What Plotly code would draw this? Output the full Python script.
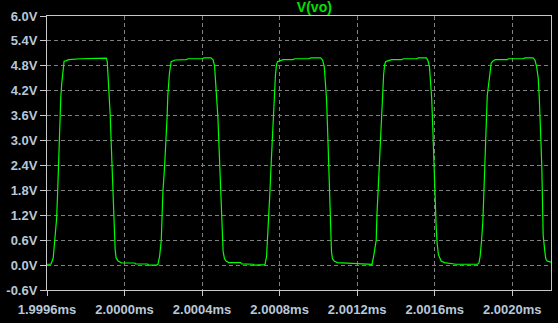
import plotly.graph_objects as go

# time offsets from 2.0000 ms, in nanoseconds
t_ns = [
    -404, -379.6, -367.9, -362.8, -357.7, -350.6, -345.5, -340.4, -335.3, -328.7, -323.6, -316.9, -311.8,
    -303.2, -287.9, -226.7, -150.3, -94.3,
    -89.2, -84.1, -79.0, -73.9, -68.8, -63.7, -58.6, -53.5, -48.4, -43.3, -33.1, -14.3,
    53.5, 56, 119.7, 122.3, 165,
    172.2, 180.9, 189.6, 197.7, 206.4, 215.0, 220.1, 223.2, 228.3, 231.8, 240.5, 260.9,
    318.5, 328.7, 400.0, 410.2, 445.9,
    457.6, 464.7, 469.8, 474.9, 481.5, 486.6, 491.7, 495.3, 500.4, 503.4, 508.5, 515.7, 523.8, 537.6,
    598.7, 603.8, 665.0, 670.1, 720,
    724.6, 732.7, 737.8, 745.0, 750.1, 755.2, 761.8, 766.9, 772.0, 778.6, 783.7, 788.8, 801.0,
    817.8, 868.8, 879.0, 950.3, 960.5, 1011.5,
    1021.7, 1030.3, 1035.4, 1042.0, 1047.1, 1052.2, 1055.8, 1058.8, 1063.9, 1067.5, 1072.6, 1081.3, 1098.1,
    1149.0, 1174.5, 1225.5, 1276.4,
    1285.1, 1298.3, 1301.9, 1307.0, 1313.1, 1319.7, 1324.8, 1329.9, 1336.6, 1341.7, 1346.7, 1357.9,
    1378.3, 1429.3, 1439.5, 1505.7, 1515.9, 1556.7,
    1564.3, 1573.0, 1578.1, 1584.7, 1589.8, 1594.9, 1598.5, 1601.5, 1607.6, 1612.7, 1619.3, 1633.1, 1649.9,
    1709.5, 1821.7,
    1828.3, 1834.4, 1842.0, 1848.6, 1853.7, 1858.8, 1862.4, 1867.5, 1871.1, 1879.2, 1884.3, 1891.4, 1899.6,
    1913.4, 1974.5, 1979.6, 2056.0, 2066.2, 2107.0,
    2117.2, 2125.8, 2134.0, 2139.1, 2144.2, 2147.7, 2152.8, 2156.4, 2159.5, 2168.1, 2173.2, 2179.8, 2193.6, 2202.3,
]
v_vo = [
    0.02, 0.02, 0.17, 0.45, 0.69, 1.11, 1.70, 2.52, 3.45, 4.06, 4.39, 4.74, 4.91,
    4.92, 4.95, 4.97, 4.985, 4.985,
    4.90, 4.51, 4.04, 3.62, 2.95, 2.33, 1.58, 0.72, 0.37, 0.17, 0.10, 0.05,
    0.05, 0.026, 0.026, 0.0, 0.0,
    0.02, 0.21, 0.60, 1.74, 2.36, 2.98, 3.61, 4.08, 4.39, 4.63, 4.90, 4.94,
    4.95, 4.97, 4.97, 4.99, 4.99,
    4.94, 4.78, 4.51, 4.04, 3.57, 2.87, 2.24, 1.77, 1.15, 0.60, 0.33, 0.15, 0.10, 0.06,
    0.06, 0.03, 0.02, 0.0, 0.0,
    0.01, 0.21, 0.60, 1.15, 1.77, 2.32, 2.95, 3.57, 4.12, 4.59, 4.82, 4.90, 4.92,
    4.95, 4.95, 4.97, 4.97, 4.99, 4.99,
    4.94, 4.78, 4.51, 4.00, 3.34, 2.64, 2.01, 1.46, 0.84, 0.33, 0.15, 0.10, 0.06,
    0.05, 0.03, 0.02, 0.02,
    0.21, 0.60, 1.19, 1.70, 2.32, 2.95, 3.57, 4.12, 4.59, 4.82, 4.90, 4.92,
    4.95, 4.95, 4.97, 4.97, 4.99, 4.99,
    4.94, 4.78, 4.51, 4.00, 3.34, 2.64, 2.01, 1.46, 0.92, 0.52, 0.25, 0.10, 0.06,
    0.02, 0.02,
    0.05, 0.21, 0.60, 1.07, 1.74, 2.36, 2.98, 3.57, 4.08, 4.39, 4.67, 4.86, 4.91,
    4.95, 4.95, 4.97, 4.97, 4.99, 4.99,
    4.94, 4.78, 4.51, 4.08, 3.57, 3.03, 2.32, 1.62, 0.72, 0.33, 0.15, 0.10, 0.07, 0.07,
]

x_tick_vals = [1.9996, 2.0000, 2.0004, 2.0008, 2.0012, 2.0016, 2.0020]
x_tick_text = ["1.9996ms", "2.0000ms", "2.0004ms", "2.0008ms", "2.0012ms", "2.0016ms", "2.0020ms"]
y_tick_vals = [-0.6, 0.0, 0.6, 1.2, 1.8, 2.4, 3.0, 3.6, 4.2, 4.8, 5.4, 6.0]
y_tick_text = ["-0.6V", "0.0V", "0.6V", "1.2V", "1.8V", "2.4V", "3.0V", "3.6V", "4.2V", "4.8V", "5.4V", "6.0V"]

t_ms = [2.0 + t / 1e6 for t in t_ns]

label_color = "#b8c8d8"
frame_color = "#c8c8c8"
grid_color = "#808080"
font_family = "Liberation Sans, Arial, sans-serif"

fig = go.Figure()
fig.add_trace(go.Scatter(x=t_ms, y=v_vo, mode="lines",
                         line=dict(color="#00ff00", width=1.2), hoverinfo="skip"))

fig.update_layout(
    width=558, height=323,
    margin=dict(l=40, r=6, t=16, b=25),
    paper_bgcolor="black", plot_bgcolor="black",
    showlegend=False,
    font=dict(family=font_family, size=13, color=label_color),
    title=dict(text="V(vo)", x=296 / 558, xanchor="center", xref="paper",
               y=1 - 7.5 / 323, yanchor="middle", yref="container",
               font=dict(family=font_family, size=14, color="#00e000", weight="bold")),
)
fig.update_xaxes(
    range=[1.9996, 2.0022], tickvals=x_tick_vals, ticktext=x_tick_text,
    showgrid=True, gridcolor=grid_color, griddash="4px,3px", gridwidth=1,
    showline=True, linecolor=frame_color, linewidth=1, mirror=True,
    ticks="outside", ticklen=5, tickcolor=frame_color, zeroline=False,
    ticklabelstandoff=2,
    tickfont=dict(family=font_family, size=13, color=label_color, weight="bold"),
)
fig.update_yaxes(
    range=[-0.6, 6.0], tickvals=y_tick_vals, ticktext=y_tick_text,
    showgrid=True, gridcolor=grid_color, griddash="4px,3px", gridwidth=1,
    showline=True, linecolor=frame_color, linewidth=1, mirror=True,
    ticks="outside", ticklen=6, tickcolor=frame_color, zeroline=False,
    tickfont=dict(family=font_family, size=13, color=label_color, weight="bold"),
)

fig.write_html("out.html")
